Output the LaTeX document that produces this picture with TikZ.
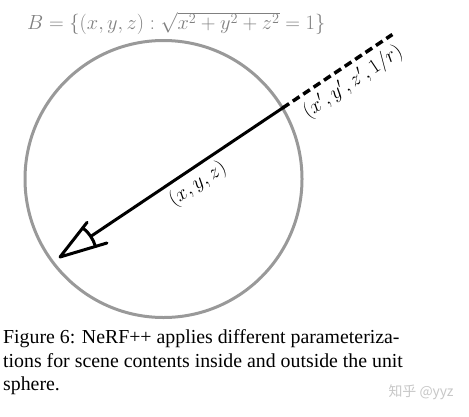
\RequirePackage{fix-cm}
\documentclass[tikz,border=0pt]{standalone}
\usepackage{fontspec}
\newfontfamily\capfont{Liberation Serif}
\newfontfamily\cjk{Noto Sans CJK SC}
\definecolor{spheregray}{gray}{0.6}
\definecolor{titlegray}{gray}{0.5}
\definecolor{markgray}{gray}{0.78}
\tikzset{
    ray/.style={line width=3bp, line cap=round},
    label/.style={inner sep=0pt, font=\fontsize{20.5}{24}\selectfont},
}
\begin{document}
\begin{tikzpicture}[x=1bp, y=1bp]
        \useasboundingbox (0, 0) rectangle (469, 416);
        % unit sphere
        \draw[spheregray, line width=3bp] (163.5, 237) circle (138.5);
        \node[label, titlegray, anchor=base west] (title) at (27, 387) {$B = \{(x, y, z) : \sqrt{x^2 + y^2 + z^2} = 1\}$};
        % camera eye and ray
        \coordinate (eye) at (60, 159);
        \path (eye) ++(33.8:37) coordinate (start);
        \path (eye) ++(33.8:267.7) coordinate (exit);
        \path (eye) ++(33.8:400) coordinate (far);
        \draw[ray, line join=round] (eye) ++(52:44) coordinate (lidup) -- (eye) -- ++(16.6:49) coordinate (liddown);
        \draw[ray] (eye) ++(52:37) arc[start angle=52, end angle=16.6, radius=37];
        \draw[ray] (start) -- (exit);
        \draw[line width=3.5bp, dash pattern=on 8bp off 4.5bp] (exit) -- (far);
        \node[label, rotate=33.8] (inner) at (197.7, 231.9) {$(x, y, z)$};
        \node[label, rotate=33.8] (outer) at (353, 334) {$(x', y', z', 1/r)$};
        % caption
        \node[anchor=north west, inner sep=0pt, align=left, font=\capfont\fontsize{19.9}{23.5}\selectfont] (caption) at (3, 86.3)
            {Figure 6: NeRF++ applies different parameteriza-\\tions for scene contents inside and outside the unit\\sphere.};
        \node[markgray, inner sep=0pt, font=\cjk\fontsize{14}{16}\selectfont] (mark) at (421, 24) {知乎 @yyz};
    \end{tikzpicture}
\end{document}
